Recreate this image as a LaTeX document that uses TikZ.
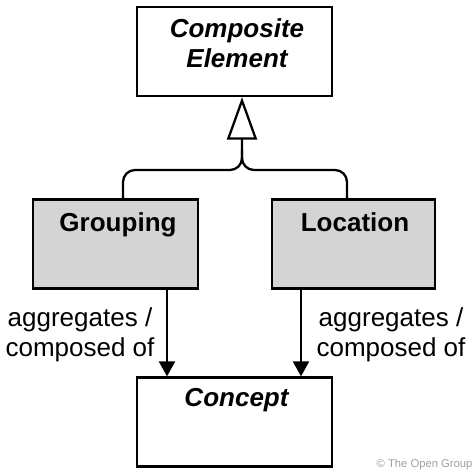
\documentclass[tikz,border=0pt]{standalone}
\usepackage{fontspec}
\setmainfont{Liberation Sans}
\usetikzlibrary{arrows.meta}

\begin{document}
\begin{tikzpicture}[line width=1.3pt,
	box/.style={draw,minimum width=3.9cm,minimum height=1.78cm},
	grey/.style={box,fill=black!17,minimum width=3.3cm},
	title/.style={font=\fontsize{14.8}{17.1}\selectfont\bfseries,align=center,inner sep=0pt},
	ititle/.style={title,font=\fontsize{14.8}{17.1}\selectfont\bfseries\itshape},
	lbl/.style={font=\fontsize{14.8}{17.1}\selectfont,align=center,inner sep=0pt}]
	\useasboundingbox (0,0) rectangle (9.48,9.46);
			\draw (4.69,8.43) node [box] (comp) {};
			\draw (4.74,8.6) node [ititle] (compt) {Composite\\Element};
			\draw (2.31,4.58) node [grey] (grp) {};
			\draw (2.36,4.96) node [title] (grpt) {Grouping};
			\draw (7.07,4.58) node [grey,minimum width=3.26cm] (loc) {};
			\draw (7.10,5.01) node [title] (loct) {Location};
			\draw (4.69,1.02) node [box] (conc) {};
			\draw (4.73,1.46) node [ititle] (conct) {Concept};
			\draw (1.6,2.76) node [lbl] (lbl1) {aggregates /\\composed of};
			\draw (7.82,2.76) node [lbl] (lbl2) {aggregates /\\composed of};
			\draw (8.49,0.16) node [inner sep=0pt,text=black!38,font=\fontsize{6.4}{7}\selectfont] (copy) {© The Open Group};
			% specialisation fork
			\coordinate (fork) at (4.84,6.06);
			\coordinate (gtop) at (2.46,0);
			\coordinate (ltop) at (6.94,0);
			\draw[rounded corners=0.24cm,-{Triangle[open,width=0.6cm,length=0.85cm]}]
				(grp.north -| gtop) |- (fork) -- (comp.south -| fork);
			\draw[rounded corners=0.24cm] (loc.north -| ltop) |- (fork) -- ++(0,0.4);
			% aggregation
			\coordinate (a1) at (3.34,0);
			\coordinate (a2) at (6.02,0);
			\path[-{Triangle[width=0.32cm,length=0.3cm]}]
				(grp.south -| a1) edge (conc.north -| a1)
				(loc.south -| a2) edge (conc.north -| a2);
\end{tikzpicture}
\end{document}
